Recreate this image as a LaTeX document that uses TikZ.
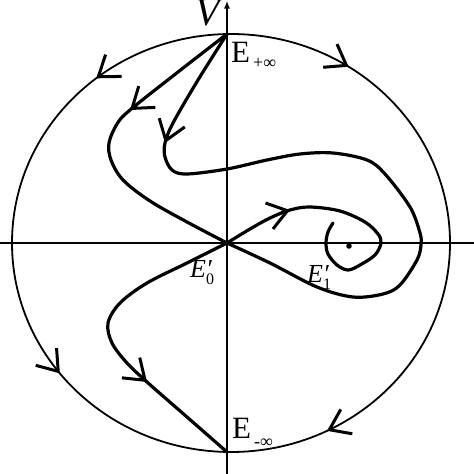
\documentclass[tikz,border=0pt]{standalone}
\usepackage{fontspec}
\setmainfont{Liberation Serif}
\usetikzlibrary{arrows.meta,calc}
\begin{document}
\begin{tikzpicture}[x=1pt,y=-1pt,
  axisline/.style={line width=1.8pt},
  traj/.style={line width=3.2pt, line join=round, line cap=round},
  barb/.style={-{Straight Barb[length=19pt,width=27pt,line width=3pt]}},
  lab/.style={inner sep=0pt, anchor=base west},
]
\useasboundingbox (0,0) rectangle (474,474);
\coordinate (C) at (231,243);
\coordinate (Ep) at (227,34);
\coordinate (Em) at (227,452);
\coordinate (E0) at (227,243);
\coordinate (E1) at (349,246);
% axes
\draw[axisline] (0,243) -- (474,243);
\draw[axisline, -{Latex[length=8pt,width=6pt]}] (227,474) -- (227,0.5);
% boundary
\draw[axisline] (C) ellipse[x radius=219, y radius=209];
\draw[axisline, barb] ($(C)+(-127:219 and 209)$) -- ($(C)+(-128:219 and 209)$);
\draw[axisline, barb] ($(C)+(-58.5:219 and 209)$) -- ($(C)+(-57.5:219 and 209)$);
\draw[axisline, barb] ($(C)+(-217.6:219 and 209)$) -- ($(C)+(-218.6:219 and 209)$);
\draw[axisline, barb] ($(C)+(63:219 and 209)$) -- ($(C)+(64:219 and 209)$);
% outer S
\draw[traj] plot[smooth, tension=0.55] coordinates {(Ep) (178,72) (130,110) (117,124) (109,143) (111,160) (123,180) (150,201) (187,222) (E0)};
\draw[traj, barb] (136.3,105.1) -- (130,110);
% inner S
\draw[traj] plot[smooth, tension=0.55] coordinates {(Ep) (198,80) (173,123) (165,143) (165,157) (172,170) (187,174) (227,169) (267,160) (300,154) (333,153) (367,160) (385,174) (410,207) (420,233) (421,245) (417,260) (400,285) (383,294) (353,297) (317,287) (270,263) (E0)};
\draw[traj, barb] (167.6,135.4) -- (165,143);
% loop to E1
\draw[traj] plot[smooth, tension=0.55] coordinates {(E0) (250,229) (270,218) (290,210) (310,207) (340,211) (365,222) (378,234) (381,243) (375,255) (360,265) (348,270) (337,265) (328,254) (326,243) (328,232) (333,223)};
\draw[traj, barb] (282,212.3) -- (290,210);
\fill (E1) circle[radius=2.8];
% lower S
\draw[traj] plot[smooth, tension=0.55] coordinates {(E0) (187,263) (147,283) (120,303) (108,323) (112,343) (127,363) (147,382) (187,417) (Em)};
\draw[traj, barb] (141,376.7) -- (147,382);
% labels
\node[lab] (V) at (195,25) {\fontsize{40}{40}\selectfont\itshape V};
\node[lab] (Eplab) at (231,62) {\fontsize{31}{31}\selectfont E};
\node[lab] (Epsub) at (253,68) {\fontsize{18}{18}\selectfont +∞};
\node[lab] (Emlab) at (232,438) {\fontsize{31}{31}\selectfont E};
\node[lab] (Emsub) at (254,447) {\fontsize{18}{18}\selectfont -∞};
\node[lab] (E0lab) at (190,277) {\fontsize{26}{26}\selectfont\itshape E\rlap{′}\raisebox{-0.3em}{\fontsize{16}{16}\selectfont\upshape 0}};
\node[lab] (E1lab) at (307,282) {\fontsize{26}{26}\selectfont\itshape E\rlap{′}\raisebox{-0.3em}{\fontsize{16}{16}\selectfont\upshape 1}};
\end{tikzpicture}
\end{document}
